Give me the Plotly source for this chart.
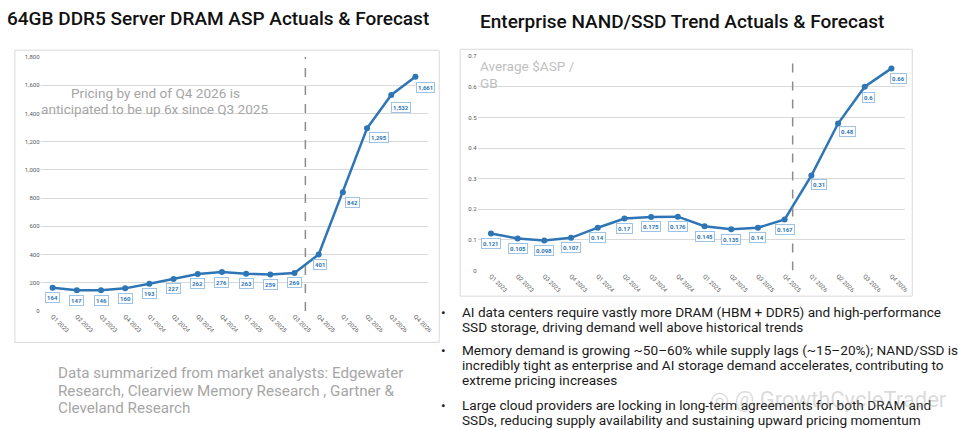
import plotly.graph_objects as go

quarters = ["Q1 2023", "Q2 2023", "Q3 2023", "Q4 2023", "Q1 2024", "Q2 2024", "Q3 2024", "Q4 2024",
            "Q1 2025", "Q2 2025", "Q3 2025", "Q4 2025", "Q1 2026", "Q2 2026", "Q3 2026", "Q4 2026"]
dram_asp = [164, 147, 146, 160, 193, 227, 262, 276, 263, 259, 269, 401, 842, 1295, 1532, 1661]
nand_asp = [0.121, 0.105, 0.098, 0.107, 0.14, 0.17, 0.175, 0.176, 0.145, 0.135, 0.14, 0.167, 0.31, 0.48, 0.6, 0.66]

title_left = "64GB DDR5 Server DRAM ASP Actuals & Forecast"
title_right = "Enterprise NAND/SSD Trend Actuals & Forecast"
note_left = ["Pricing by end of Q4 2026 is", "anticipated to be up 6x since Q3 2025"]
note_right = ["Average $ASP /", "GB"]
source_text = ["Data summarized from market analysts: Edgewater",
               "Research, Clearview Memory Research , Gartner &",
               "Cleveland Research"]
bullets = [
    ["AI data centers require vastly more DRAM (HBM + DDR5) and high-performance",
     "SSD storage, driving demand well above historical trends"],
    ["Memory demand is growing ~50\u201360% while supply lags (~15\u201320%); NAND/SSD is",
     "incredibly tight as enterprise and AI storage demand accelerates, contributing to",
     "extreme pricing increases"],
    ["Large cloud providers are locking in long-term agreements for both DRAM and",
     "SSDs, reducing supply availability and sustaining upward pricing momentum"],
]
watermark = "\u25CE @ GrowthCycleTrader"

W, H = 958, 430
BLUE = "#2E75B6"
GRID = "#d9d9d9"
FONT = "Roboto"

def px(x):
    return x / W

def py(y):
    return 1 - y / H

fig = go.Figure()
fig.add_trace(go.Scatter(x=quarters, y=dram_asp, mode="lines+markers", xaxis="x", yaxis="y",
                         line=dict(color=BLUE, width=2.5), marker=dict(size=6, color=BLUE),
                         showlegend=False, hoverinfo="x+y"))
fig.add_trace(go.Scatter(x=quarters, y=nand_asp, mode="lines+markers", xaxis="x2", yaxis="y2",
                         line=dict(color=BLUE, width=2.5), marker=dict(size=6, color=BLUE),
                         showlegend=False, hoverinfo="x+y"))

axis_common = dict(showline=False, zeroline=False, ticks="",
                   tickfont=dict(size=6, color="#595959", family=FONT))

fig.update_layout(
    width=W, height=H, margin=dict(l=0, r=0, t=0, b=0),
    paper_bgcolor="white", plot_bgcolor="white",
    font=dict(family=FONT),
    xaxis=dict(domain=[px(40.8), px(430.2)], anchor="y", type="category", range=[-0.5, 15.5],
               tickangle=45, showgrid=False, **axis_common),
    yaxis=dict(domain=[py(312), py(54)], anchor="x", range=[0, 1800], dtick=200, tickformat=",",
               showgrid=True, gridcolor=GRID, gridwidth=1, **axis_common),
    xaxis2=dict(domain=[px(480.6), px(910.5)], anchor="y2", type="category", range=[-0.5, 15.5],
                tickangle=45, showgrid=False, **axis_common),
    yaxis2=dict(domain=[py(271), py(53)], anchor="x2", range=[0, 0.7], dtick=0.1,
                showgrid=True, gridcolor=GRID, gridwidth=1, **axis_common),
)

shapes = [
    dict(type="rect", xref="paper", yref="paper", x0=px(15), x1=px(442), y0=py(344), y1=py(47),
         line=dict(color=GRID, width=1), layer="below"),
    dict(type="rect", xref="paper", yref="paper", x0=px(463), x1=px(918), y0=py(297), y1=py(46),
         line=dict(color=GRID, width=1), layer="below"),
    dict(type="line", xref="x", yref="y", x0=10.45, x1=10.45, y0=0, y1=1800,
         line=dict(color="#8c8c8c", width=1.5, dash="dash")),
    dict(type="line", xref="x2", yref="y2", x0=11.3, x1=11.3, y0=0, y1=0.725,
         line=dict(color="#8c8c8c", width=1.5, dash="dash")),
]
fig.update_layout(shapes=shapes)

ann = []
# data labels, left chart
left_shift = [(0, -10)] * 11 + [(1, -10), (10, -10), (12, -9), (10, -13), (10, -11)]
for q, v, (dx, dy) in zip(quarters, dram_asp, left_shift):
    ann.append(dict(x=q, y=v, xref="x", yref="y", text=f"<b>{v:,}</b>", showarrow=False,
                    xshift=dx, yshift=dy, font=dict(size=6, color=BLUE, family=FONT),
                    bgcolor="white", bordercolor="#9dc3e6", borderwidth=1, borderpad=1))
right_shift = [(0, -10)] * 12 + [(8, -9), (9, -8), (4, -11), (7, -10)]
for q, v, (dx, dy) in zip(quarters, nand_asp, right_shift):
    ann.append(dict(x=q, y=v, xref="x2", yref="y2", text=f"<b>{v:g}</b>", showarrow=False,
                    xshift=dx, yshift=dy, font=dict(size=6, color=BLUE, family=FONT),
                    bgcolor="white", bordercolor="#9dc3e6", borderwidth=1, borderpad=1))


def text_line(s, x, y, size, color, xanchor="left", weight=None):
    f = dict(size=size, color=color, family=FONT)
    if weight:
        f["weight"] = weight
    return dict(x=px(x), y=py(y), xref="paper", yref="paper", text=s, showarrow=False,
                xanchor=xanchor, yanchor="middle", font=f)


# titles
ann.append(text_line(title_left, 5, 15, 19, "#111111", weight=500))
ann.append(text_line(title_right, 481, 18, 19, "#111111", weight=500))
# notes inside charts
for s, yy in zip(note_left, [90, 107]):
    ann.append(text_line(s, 156, yy, 13.6, "#a6a6a6", xanchor="center"))
for s, yy in zip(note_right, [63, 80]):
    ann.append(text_line(s, 481, yy, 13.6, "#bfbfbf"))
# source text
for s, yy in zip(source_text, [375.5, 393, 410.5]):
    ann.append(text_line(s, 56, yy, 15.2, "#a6a6a6"))
# bullets
bullet_lines_y = [[313, 328], [352, 367, 382], [408, 423]]
for lines, ys in zip(bullets, bullet_lines_y):
    ann.append(text_line("\u2022", 446, ys[0], 13.6, "#1a1a1a", xanchor="center"))
    for s, yy in zip(lines, ys):
        ann.append(text_line(s, 463, yy, 13.6, "#1a1a1a"))
# watermark
ann.append(text_line(watermark, 955, 402, 22, "rgba(150,150,150,0.35)", xanchor="right"))

fig.update_layout(annotations=ann)
fig.write_html("out.html", config={"displayModeBar": False},
               post_script="document.body.style.margin='0';")
